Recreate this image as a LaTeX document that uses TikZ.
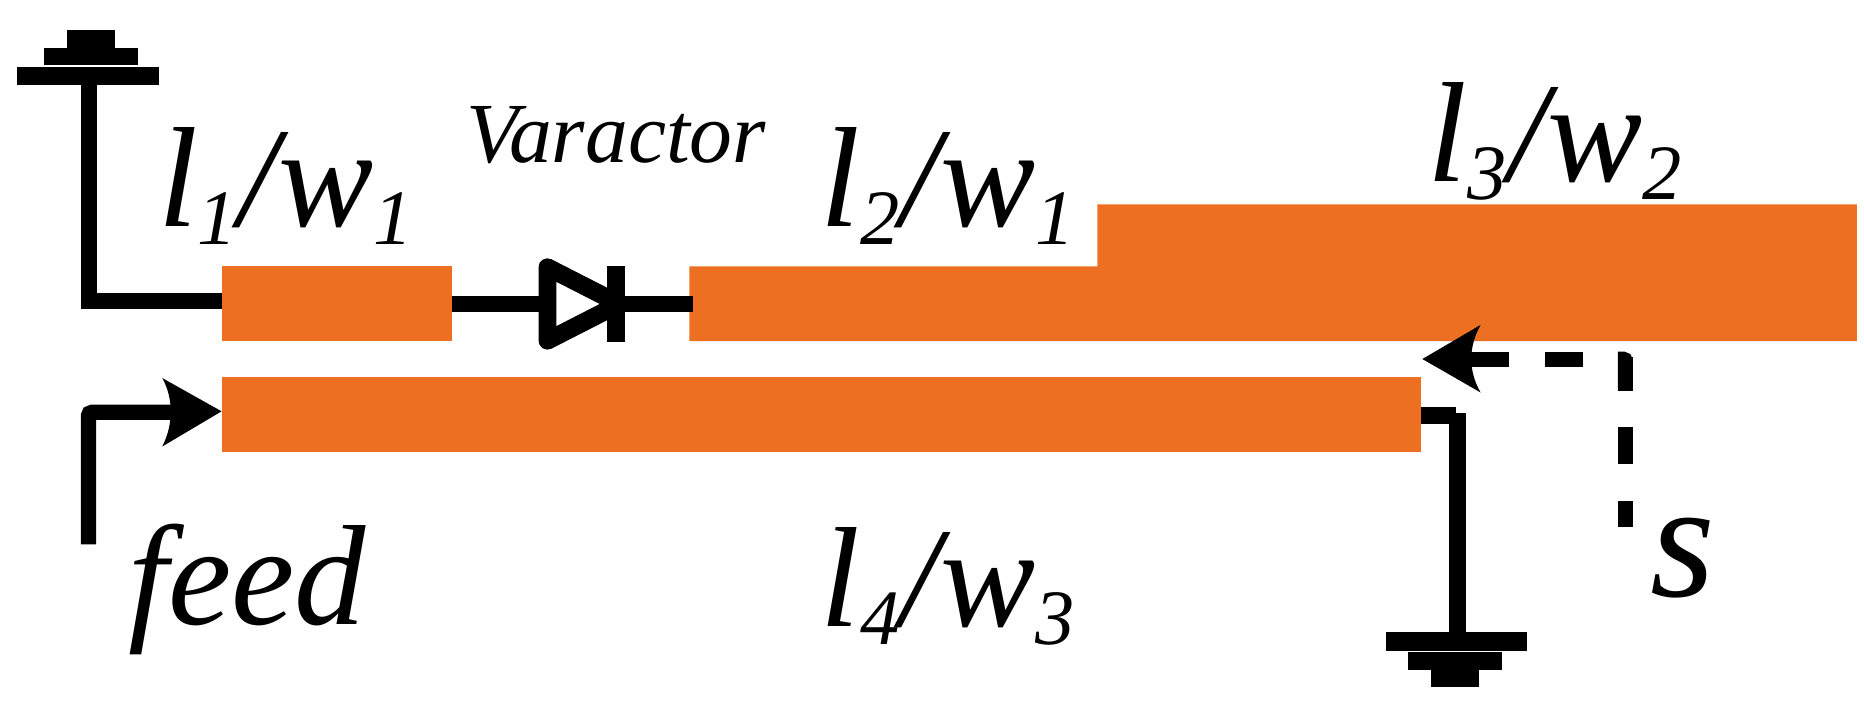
\documentclass[tikz,border=0pt]{standalone}
\usepackage{fontspec}
\setmainfont{Liberation Serif}
\definecolor{stripc}{HTML}{ED7022}
\tikzset{
 wire/.style={line width=13.5pt,line join=miter,line cap=butt,draw=black},
 dashwire/.style={line width=12.6pt,line cap=butt,draw=black},
 lbl/.style={font=\itshape\fontsize{#1}{#1}\selectfont,inner sep=0pt,anchor=base west,text=black}
}
\newcommand{\lwsub}[1]{\raisebox{-15pt}{\fontsize{66}{66}\selectfont #1}}
\newcommand{\lw}[3]{#1\lwsub{#2}\hspace{1pt}/w\lwsub{#3}}
\begin{document}
\begin{tikzpicture}[x=1pt,y=-1pt]
\useasboundingbox (0,0) rectangle (1568,597.3);
% strips
\fill[stripc] (187,224) rectangle (380.5,287);
\fill[stripc] (580,224) -- (923,224) -- (923,172) -- (1562,172) -- (1562,287) -- (580,287) -- cycle;
\fill[stripc] (187,317) rectangle (1195,380);
% top-left ground
\fill (56,25) rectangle (97,40);
\fill (37,40) rectangle (116,55);
\fill (14,56) rectangle (134,71.5);
\draw[wire] (74.5,71) -- (74.5,253) -- (187,253);
% varactor
\draw[wire] (380.5,255.7) -- (462,255.7);
\draw[wire] (515,255.7) -- (583,255.7);
\draw[line width=15pt,line join=round] (460.5,224.8) -- (521,255.7) -- (460.5,286.6) -- cycle;
\fill (511,224) rectangle (525.6,287.6);
% feed
\draw[wire,line width=12.8pt,rounded corners=3pt] (74.4,458) -- (74.4,346.8) -- (150,346.8);
\fill (186.4,346) -- (136.5,318) .. controls (146,335) and (146,357) .. (136.5,375.6) -- cycle;
% right ground
\draw[line width=14.6pt] (1195,349.3) -- (1225,349.3);
\draw[line width=14.4pt] (1225.8,347.6) -- (1225.8,533);
\fill (1165.6,532) rectangle (1284.7,547.2);
\fill (1184.7,548.6) rectangle (1263.5,563.5);
\fill (1203.8,563) rectangle (1243.8,578);
% s dashed
\draw[dashwire] (1232,302.1) -- (1269,302.1);
\draw[dashwire] (1300,302.1) -- (1331.5,302.1);
\draw[dashwire,rounded corners=2pt] (1361,302.1) -- (1367.3,302.1) -- (1367.3,328.6);
\draw[dashwire] (1367.3,300) -- (1367.3,328.6);
\draw[dashwire] (1367.3,358.9) -- (1367.3,390.5);
\draw[dashwire] (1367.3,421.4) -- (1367.3,443.5);
\fill (1196.5,302) -- (1245.5,273.3) .. controls (1235,292) and (1235,312) .. (1245.5,330.2) -- cycle;
% labels
\node[lbl=120] (t1) at (133,190.5) {\lw{l}{1}{1}};
\node[lbl=120] (t2) at (690,190.5) {\lw{l}{2}{1}};
\node[lbl=120] (t3) at (1201,153) {\lw{l}{3}{2}};
\node[lbl=120] (t4) at (690,527) {\lw{l}{4}{3}};
\node[lbl=72] (tv) at (392,137) {Varactor};
\node[lbl=120] (tf) at (108,525) {feed};
\node[lbl=140] (ts) at (1388,502) {s};
\end{tikzpicture}
\end{document}
